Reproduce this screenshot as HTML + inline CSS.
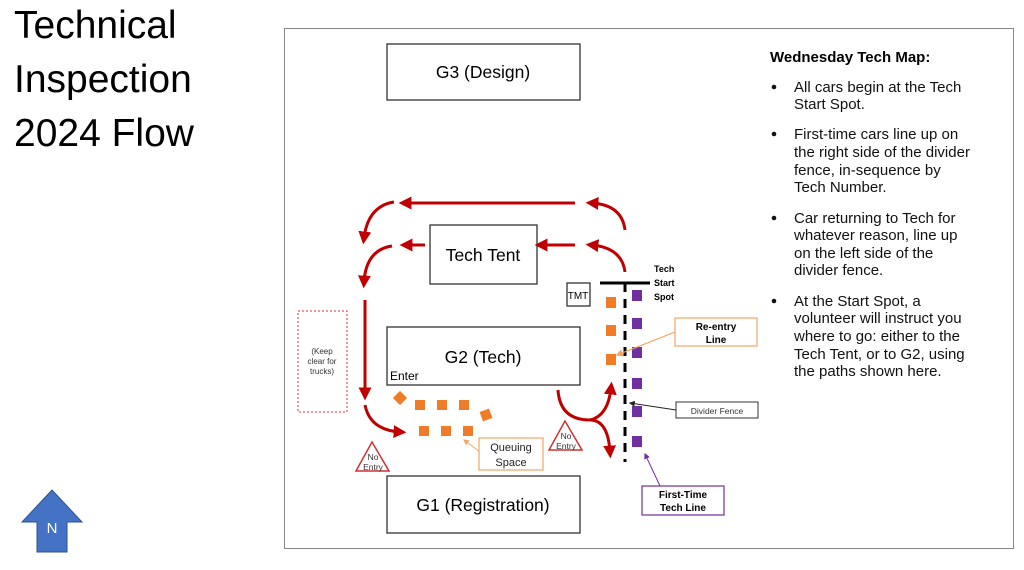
<!DOCTYPE html>
<html><head><meta charset="utf-8"><style>
html,body{margin:0;padding:0;background:#fff;}
svg{display:block;font-family:"Liberation Sans",Arial,sans-serif;}
</style></head><body>
<svg width="1024" height="570" viewBox="0 0 1024 570" xmlns="http://www.w3.org/2000/svg">
<defs>
<marker id="ar" viewBox="0 0 10 10" refX="5" refY="5" markerWidth="4.3" markerHeight="4.3" orient="auto-start-reverse" markerUnits="strokeWidth"><path d="M0,0 L10,5 L0,10 z" fill="#c00000"/></marker>
<marker id="ao" viewBox="0 0 10 10" refX="8" refY="5" markerWidth="6" markerHeight="6" orient="auto"><path d="M0,0 L10,5 L0,10 z" fill="#f4a460"/></marker>
<marker id="ak" viewBox="0 0 10 10" refX="8" refY="5" markerWidth="6" markerHeight="6" orient="auto"><path d="M0,0 L10,5 L0,10 z" fill="#222"/></marker>
<marker id="ap" viewBox="0 0 10 10" refX="8" refY="5" markerWidth="6" markerHeight="6" orient="auto"><path d="M0,0 L10,5 L0,10 z" fill="#7030a0"/></marker>
</defs>
<text font-family="Liberation Sans" font-size="39" fill="#000"><tspan x="14" y="38">Technical</tspan><tspan x="14" y="92">Inspection</tspan><tspan x="14" y="146">2024 Flow</tspan></text>
<path d="M52,490 L82,522 L67,522 L67,552 L37,552 L37,522 L22,522 Z" fill="#4472c4" stroke="#2f528f" stroke-width="1"/>
<text x="52" y="533" font-size="15" fill="#fff" text-anchor="middle">N</text>
<rect x="284.5" y="28.5" width="729" height="520" fill="#fff" stroke="#888" stroke-width="1"/>
<g fill="#fff" stroke="#333" stroke-width="1.3">
<rect x="387" y="44" width="193" height="56"/>
<rect x="430" y="225" width="107" height="59"/>
<rect x="387" y="327" width="193" height="58"/>
<rect x="387" y="476" width="193" height="57"/>
<rect x="567" y="283" width="23" height="23"/>
</g>
<g font-size="17.5" fill="#000" text-anchor="middle">
<text x="483" y="78">G3 (Design)</text>
<text x="483" y="261">Tech Tent</text>
<text x="483" y="363">G2 (Tech)</text>
<text x="483" y="511">G1 (Registration)</text>
</g>
<text x="390" y="380" font-size="12">Enter</text>
<text x="578" y="299" font-size="10" text-anchor="middle">TMT</text>
<rect x="298" y="311" width="49" height="101" fill="none" stroke="#e03030" stroke-width="1" stroke-dasharray="2,2"/>
<g font-size="8" fill="#333" text-anchor="middle"><text x="322" y="354">(Keep</text><text x="322" y="364">clear for</text><text x="322" y="374">trucks)</text></g>
<g fill="none" stroke="#c00000" stroke-width="3">
<path d="M575,203 L405,203" marker-end="url(#ar)"/>
<path d="M625,230 Q622,205 592,203" marker-end="url(#ar)"/>
<path d="M394,202 Q368,206 364,238" marker-end="url(#ar)"/>
<path d="M575,245 L541,245" marker-end="url(#ar)"/>
<path d="M425,245 L406,245" marker-end="url(#ar)"/>
<path d="M625,272 Q622,248 592,245" marker-end="url(#ar)"/>
<path d="M392,246 Q366,250 364,282" marker-end="url(#ar)"/>
<path d="M365,300 L365,394" marker-end="url(#ar)"/>
<path d="M365,405 Q370,430 400,432" marker-end="url(#ar)"/>
<path d="M558,390 Q560,420 590,420 Q608,420 610,452" marker-end="url(#ar)"/>
<path d="M590,420 Q608,416 611,388" marker-end="url(#ar)"/>
</g>
<line x1="600" y1="283" x2="650" y2="283" stroke="#000" stroke-width="3"/>
<line x1="625" y1="283" x2="625" y2="462" stroke="#000" stroke-width="3" stroke-dasharray="9,7"/>
<g font-size="9" font-weight="bold" fill="#000"><text x="654" y="272">Tech</text><text x="654" y="286">Start</text><text x="654" y="300">Spot</text></g>
<g fill="#f07c28">
<rect x="606" y="297" width="10" height="11"/><rect x="606" y="325" width="10" height="11"/><rect x="606" y="354" width="10" height="11"/>
<rect x="395" y="393" width="10" height="10" transform="rotate(45 400 398)"/>
<rect x="415" y="400" width="10" height="10"/><rect x="437" y="400" width="10" height="10"/><rect x="459" y="400" width="10" height="10"/>
<rect x="481" y="410" width="10" height="10" transform="rotate(-20 486 415)"/>
<rect x="419" y="426" width="10" height="10"/><rect x="441" y="426" width="10" height="10"/><rect x="463" y="426" width="10" height="10"/>
</g>
<g fill="#7030a0">
<rect x="632" y="290" width="10" height="11"/><rect x="632" y="318" width="10" height="11"/><rect x="632" y="347" width="10" height="11"/>
<rect x="632" y="378" width="10" height="11"/><rect x="632" y="406" width="10" height="11"/><rect x="632" y="436" width="10" height="11"/>
</g>
<line x1="675" y1="332" x2="617" y2="355" stroke="#f4a460" stroke-width="1.2" marker-end="url(#ao)"/>
<rect x="675" y="318" width="82" height="28" fill="#fff" stroke="#f4a460" stroke-width="1.2"/>
<g font-size="10" font-weight="bold" text-anchor="middle"><text x="716" y="330">Re-entry</text><text x="716" y="343">Line</text></g>
<line x1="676" y1="410" x2="630" y2="403" stroke="#222" stroke-width="1" marker-end="url(#ak)"/>
<rect x="676" y="402" width="82" height="16" fill="#fff" stroke="#333" stroke-width="1"/>
<text x="717" y="414" font-size="8.5" fill="#333" text-anchor="middle">Divider Fence</text>
<line x1="660" y1="486" x2="645" y2="454" stroke="#7030a0" stroke-width="1" marker-end="url(#ap)"/>
<rect x="642" y="486" width="82" height="29" fill="#fff" stroke="#7030a0" stroke-width="1.2"/>
<g font-size="10" font-weight="bold" text-anchor="middle"><text x="683" y="498">First-Time</text><text x="683" y="511">Tech Line</text></g>
<line x1="480" y1="452" x2="464" y2="440" stroke="#f4a460" stroke-width="1" marker-end="url(#ao)"/>
<rect x="479" y="438" width="64" height="32" fill="#fff" stroke="#f4a460" stroke-width="1.2"/>
<g font-size="11" text-anchor="middle" fill="#222"><text x="511" y="451">Queuing</text><text x="511" y="466">Space</text></g>
<g fill="#fff" stroke="#d03030" stroke-width="1.5">
<path d="M372,442 L389,471 L356,471 Z"/><path d="M565,421 L582,450 L549,450 Z"/>
</g>
<g font-size="8.5" text-anchor="middle" fill="#333"><text x="373" y="460">No</text><text x="373" y="470">Entry</text><text x="566" y="439">No</text><text x="566" y="449">Entry</text></g>
<text x="770" y="62" font-size="15" font-weight="bold">Wednesday Tech Map:</text>
<g font-size="15" fill="#111">
<circle cx="774" cy="87" r="2.3"/><circle cx="774" cy="134" r="2.3"/><circle cx="774" cy="218" r="2.3"/><circle cx="774" cy="301" r="2.3"/>
<text x="794" y="92">All cars begin at the Tech</text><text x="794" y="109">Start Spot.</text>
<text x="794" y="139">First-time cars line up on</text><text x="794" y="157">the right side of the divider</text><text x="794" y="175">fence, in-sequence by</text><text x="794" y="192">Tech Number.</text>
<text x="794" y="223">Car returning to Tech for</text><text x="794" y="240">whatever reason, line up</text><text x="794" y="258">on the left side of the</text><text x="794" y="275">divider fence.</text>
<text x="794" y="306">At the Start Spot, a</text><text x="794" y="323">volunteer will instruct you</text><text x="794" y="341">where to go: either to the</text><text x="794" y="359">Tech Tent, or to G2, using</text><text x="794" y="376">the paths shown here.</text>
</g>
</svg>
</body></html>
